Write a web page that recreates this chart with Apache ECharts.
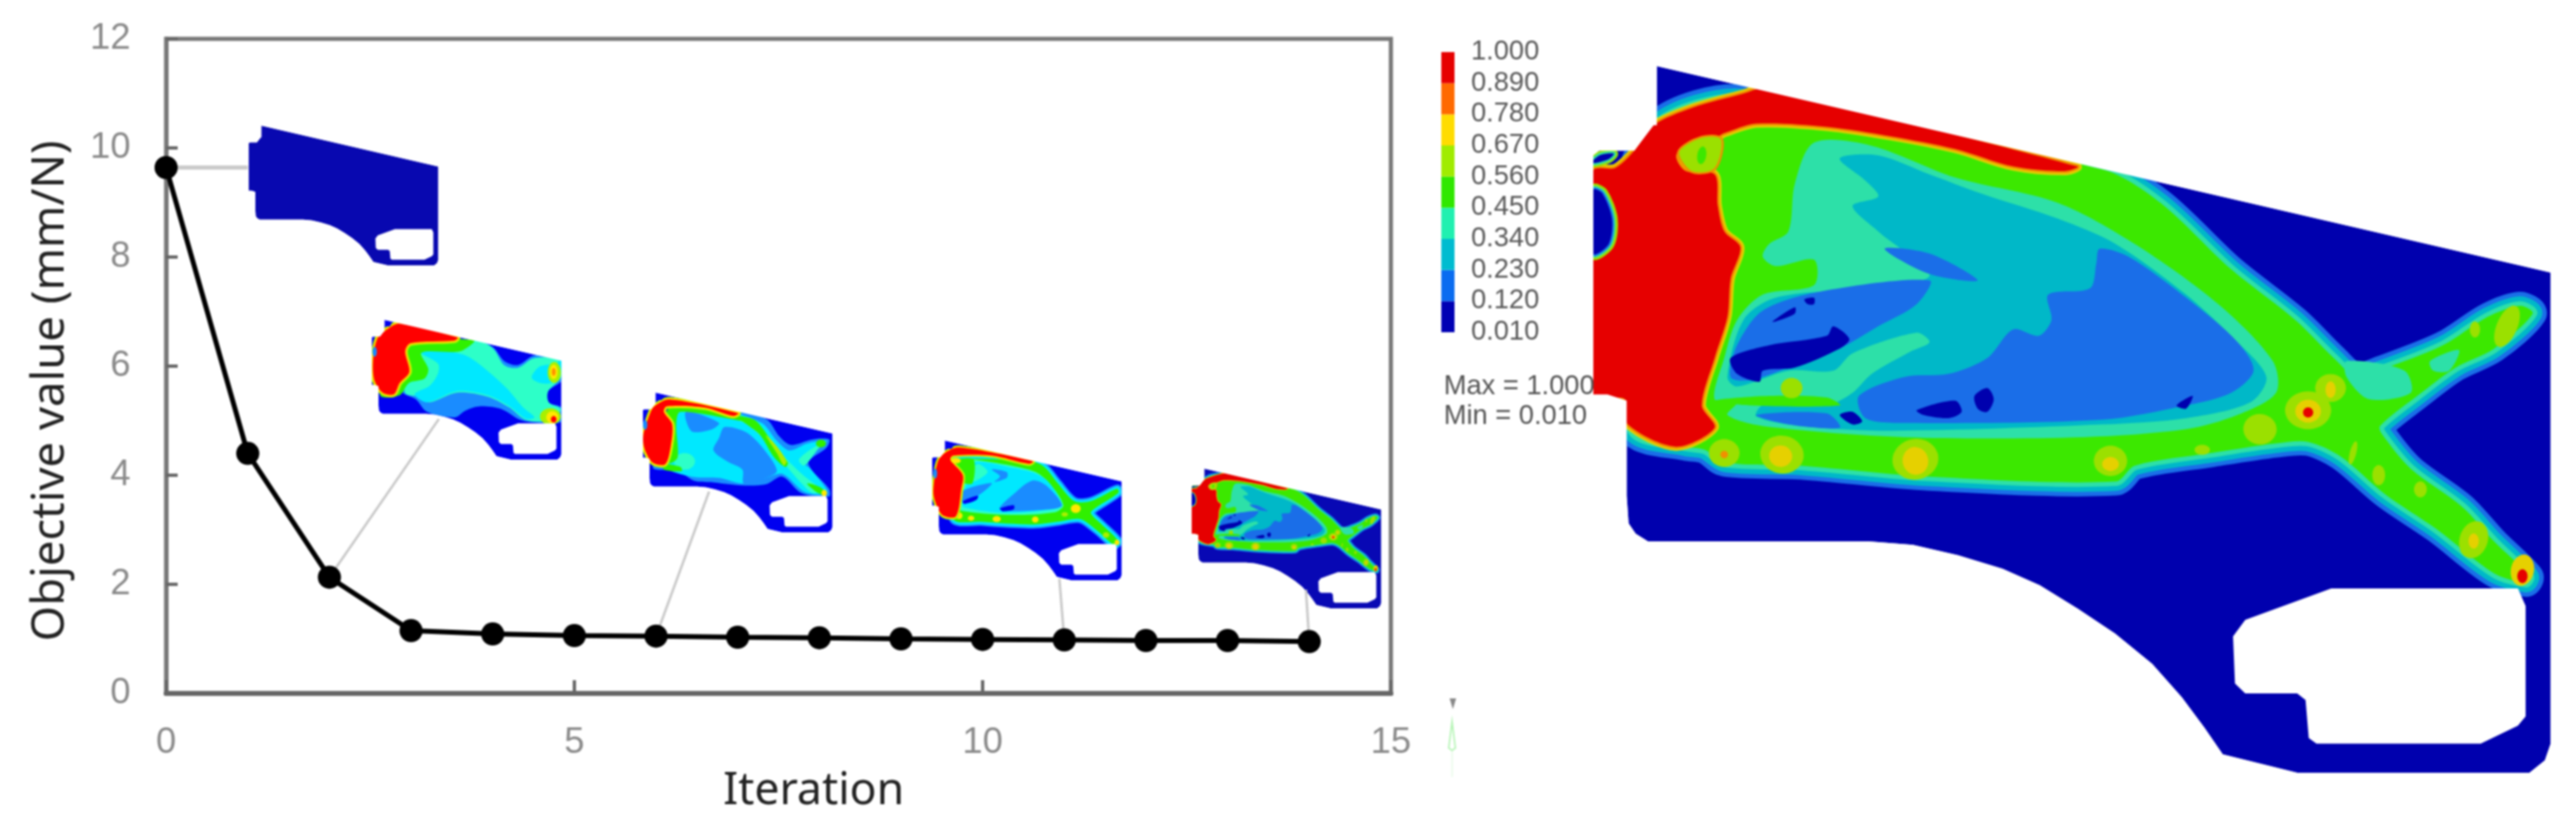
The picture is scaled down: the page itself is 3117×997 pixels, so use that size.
<!DOCTYPE html>
<html>
<head>
<meta charset="utf-8">
<title>Objective value vs iteration</title>
<script src="https://cdn.jsdelivr.net/npm/echarts@6/dist/echarts.min.js"></script>
<style>
  html, body { margin: 0; background: #fff; }
  #chart { width: 3117px; height: 997px; filter: blur(0.9px); }
</style>
</head>
<body>
<div id="chart"></div>
<script>
// chart values
const iterations = [0, 1, 2, 3, 4, 5, 6, 7, 8, 9, 10, 11, 12, 13, 14]
const objectiveValues = [9.64, 4.4, 2.13, 1.15, 1.09, 1.06, 1.05, 1.03, 1.02, 1.0, 0.99, 0.98, 0.97, 0.97, 0.95]
const leaderFirst = [[0, 9.64], [1, 9.64]]
const leaderSecond = [[2, 2.13], [3.34, 5.03]]
const leaderThird = [[6, 1.05], [6.65, 3.7]]
const leaderFourth = [[11, 0.98], [10.94, 2.1]]
const leaderFifth = [[14, 0.95], [13.96, 1.9]]
const legendTicks = [0.01, 0.12, 0.23, 0.34, 0.45, 0.56, 0.67, 0.78, 0.89, 1.0]
const legendColors = ['#0000b4', '#0a6cf0', '#00bcd0', '#20f0b0', '#30e800', '#a0ec00', '#ffdc00', '#ff6a00', '#e60000']

// contour colours
const DARK = '#0000ae', MID = '#1a6ee8', TEAL = '#00b8c8', AQUA = '#2de0a8', GREEN = '#3ce800'
const LIME = '#9be000', YELLOW = '#e6d000', ORANGE = '#f09000', RED = '#e60000'
const BLUE2 = '#0000f0', MID2 = '#1a8cff', CYAN2 = '#00e8ff', AQUA2 = '#2dffc8', GREEN2 = '#30f000'
const LIME2 = '#a8f000', YELLOW2 = '#ffe800', ORANGE2 = '#ff9000', RED2 = '#ff0000'

// outline, crop units (see fromCrop)
const outline = [[135, 78], [1528, 730], [1528, 2218], [1519, 2271], [1495, 2310], [1133, 2310], [1017, 2252], [988, 2166], [953, 2071], [907, 1966], [849, 1870], [791, 1792], [732, 1718], [674, 1666], [604, 1623], [534, 1590], [464, 1579], [121, 1579], [102, 1555], [91, 1522], [88, 1435], [88, 1135], [58, 1115], [36, 1115], [36, 360], [45, 345], [100, 345], [130, 265], [135, 265]]
const cutout = [[1186, 1728], [1477, 1728], [1489, 1783], [1489, 2132], [1477, 2161], [1419, 2218], [1163, 2218], [1151, 2200], [1146, 2080], [1133, 2059], [1052, 2059], [1036, 2028], [1033, 1879], [1052, 1827]]

function fromCrop([x, y]) {
  return [1900 + x / 1.288, 50 + y / 2.61]
}

function blob(cx, cy, rx, ry, rot = 0) {
  const pts = []
  for (let i = 0; i < 14; i++) {
    const t = (i / 14) * Math.PI * 2
    const a = rx * Math.cos(t)
    const b = ry * Math.sin(t)
    pts.push([cx + a * Math.cos(rot) - b * Math.sin(rot) * 0.5, cy + a * Math.sin(rot) * 2 + b * Math.cos(rot)])
  }
  return pts
}

// [fill, points, [[strokeWidth, colour], ...]]
const finalLayers = [
  [GREEN, [[270, 180], [830, 405], [920, 510], [1030, 720], [1130, 880], [1190, 1000], [1225, 1060], [1260, 1040], [1360, 960], [1430, 870], [1480, 835], [1500, 860], [1440, 970], [1380, 1030], [1320, 1120], [1262, 1215], [1265, 1240], [1310, 1350], [1390, 1470], [1440, 1580], [1495, 1690], [1490, 1710], [1440, 1680], [1350, 1540], [1270, 1430], [1200, 1310], [1150, 1265], [1100, 1270], [1000, 1300], [880, 1340], [850, 1390], [560, 1375], [360, 1340], [240, 1330], [210, 1290], [180, 1280], [100, 1240], [88, 1100], [88, 500], [135, 260]], [[34, MID], [23, TEAL], [11, AQUA]]],
  [AQUA, [[380, 320], [470, 330], [600, 430], [760, 510], [880, 640], [1010, 830], [1095, 1010], [1100, 1110], [1040, 1180], [960, 1225], [800, 1250], [520, 1250], [300, 1215], [245, 1180], [260, 1140], [225, 1130], [240, 1000], [260, 880], [300, 800], [380, 770], [380, 690], [320, 710], [300, 680], [310, 640], [340, 600], [350, 450]]],
  [TEAL, [[420, 370], [480, 360], [560, 420], [640, 480], [760, 560], [850, 640], [960, 800], [1040, 950], [1085, 1060], [1060, 1140], [960, 1190], [830, 1210], [500, 1230], [360, 1215], [290, 1185], [300, 1150], [400, 1150], [440, 1110], [470, 1050], [530, 980], [560, 950], [540, 920], [440, 985], [410, 1040], [340, 1040], [260, 1090], [245, 1060], [270, 880], [320, 810], [450, 780], [560, 740], [480, 600], [440, 520], [480, 490], [460, 440]]],
  [MID, [[260, 960], [300, 850], [390, 790], [560, 755], [540, 830], [480, 900], [420, 970], [340, 1030], [280, 1070], [250, 1060]]],
  [MID, [[490, 655], [560, 670], [635, 755], [560, 735]]],
  [MID, [[825, 655], [870, 680], [960, 810], [1040, 950], [1065, 1040], [1030, 1110], [960, 1150], [830, 1195], [520, 1205], [460, 1190], [450, 1120], [520, 1060], [590, 1050], [650, 1000], [690, 910], [730, 930], [750, 880], [745, 800], [810, 780], [820, 700]]],
  [MID, [[290, 1180], [400, 1175], [420, 1220], [340, 1210]]],
  [DARK, [[250, 1000], [310, 960], [400, 930], [410, 900], [435, 940], [420, 970], [350, 1030], [300, 1040], [295, 1075], [260, 1050]]],
  [DARK, [[315, 885], [350, 840], [350, 860], [320, 885]]],
  [DARK, [[365, 815], [380, 810], [380, 830], [370, 830]]],
  [DARK, [[540, 1165], [600, 1135], [610, 1170], [590, 1190], [550, 1180]]],
  [DARK, [[630, 1120], [650, 1095], [660, 1130], [650, 1170], [635, 1160]]],
  [DARK, [[420, 1180], [440, 1170], [455, 1200], [440, 1210]]],
  [DARK, [[945, 1150], [970, 1120], [960, 1160]]],
  [AQUA, [[1210, 1010], [1300, 1040], [1310, 1110], [1245, 1130], [1210, 1060]]],
  [AQUA, [[1340, 1010], [1385, 975], [1370, 1040], [1345, 1040]]],
  [GREEN, [[225, 1135], [310, 1120], [400, 1125], [420, 1150], [280, 1150]]],
  [LIME, blob(345, 1095, 17, 32)],
  [LIME, blob(1460, 900, 16, 70, 0.4)],
  [LIME, blob(1410, 910, 8, 25)],
  [LIME, blob(1075, 1225, 26, 48, 0.1)],
  [LIME, blob(985, 1290, 12, 16)],
  [LIME, blob(1220, 1300, 5, 38, 0.25)],
  [LIME, blob(1260, 1370, 10, 32)],
  [LIME, blob(1325, 1415, 10, 25)],
  [LIME, blob(240, 1300, 24, 44)],
  [ORANGE, blob(240, 1305, 6, 12)],
  [LIME, blob(330, 1305, 34, 60, 0.15)],
  [YELLOW, blob(328, 1310, 18, 34, 0.15)],
  [LIME, blob(538, 1320, 36, 64, -0.2)],
  [YELLOW, blob(538, 1325, 20, 44, -0.2)],
  [LIME, blob(842, 1325, 26, 48)],
  [YELLOW, blob(842, 1335, 13, 22)],
  [LIME, blob(1150, 1165, 36, 60)],
  [YELLOW, blob(1150, 1168, 20, 36)],
  [RED, blob(1150, 1172, 8, 16)],
  [LIME, blob(1185, 1095, 24, 44)],
  [YELLOW, blob(1185, 1100, 8, 26)],
  [LIME, blob(1408, 1574, 22, 60, 0.3)],
  [YELLOW, blob(1408, 1578, 8, 24)],
  [YELLOW, blob(1484, 1670, 18, 50, 0.2)],
  [RED, blob(1484, 1689, 8, 22)],
  [RED, [[36, 410], [70, 400], [100, 345], [130, 265], [190, 210], [270, 165], [300, 150], [790, 395], [770, 410], [690, 395], [600, 340], [500, 300], [400, 270], [290, 260], [240, 290], [230, 300], [190, 310], [165, 360], [180, 410], [225, 420], [230, 520], [240, 600], [265, 650], [250, 750], [245, 870], [225, 1000], [205, 1150], [225, 1220], [165, 1280], [90, 1210], [85, 1130], [36, 1120]], [[10, YELLOW], [5, ORANGE]]],
  [LIME, [[170, 350], [205, 305], [235, 310], [225, 400], [190, 410]], [[5, ORANGE]]],
  [GREEN, blob(205, 360, 7, 28, 0.15)],
  [DARK, [[36, 470], [50, 480], [65, 560], [60, 640], [36, 670]], [[14, LIME], [8, AQUA], [4, MID]]],
  [DARK, [[36, 375], [48, 358], [68, 355], [60, 372], [36, 385]], [[10, LIME], [5, AQUA]]]
]

// inset coordinates below are zoomed 3x from the small figures
const iter1Layers = [
  [MID2, [[140, 280], [190, 310], [230, 355], [330, 375], [370, 350], [420, 335], [500, 345], [570, 385], [640, 395], [720, 390], [720, 340], [670, 320], [670, 280], [720, 240], [720, 170], [620, 150], [560, 185], [510, 170], [470, 120], [410, 95], [170, 110]]],
  [AQUA2, [[150, 285], [160, 130], [410, 95], [470, 125], [510, 185], [560, 195], [620, 160], [716, 168], [716, 230], [670, 280], [672, 320], [716, 345], [680, 385], [590, 385], [530, 340], [450, 300], [340, 285], [240, 320], [200, 300]]],
  [CYAN2, [[200, 135], [300, 135], [370, 150], [430, 190], [520, 270], [580, 340], [620, 375], [590, 380], [530, 335], [450, 295], [340, 280], [230, 320], [185, 290], [240, 260], [270, 215], [270, 180]]],
  [CYAN2, [[610, 230], [640, 190], [700, 180], [716, 165], [716, 215], [680, 250], [640, 250]]],
  [GREEN2, [[165, 100], [400, 95], [350, 135], [210, 140], [235, 200], [220, 235], [165, 250], [130, 295], [60, 295], [100, 150]]],
  [LIME2, blob(692, 212, 24, 38)],
  [YELLOW2, blob(690, 210, 14, 26)],
  [ORANGE2, blob(690, 210, 7, 14)],
  [LIME2, blob(678, 372, 38, 30)],
  [YELLOW2, blob(685, 375, 22, 22)],
  [RED2, blob(690, 382, 10, 12)],
  [RED2, [[35, 170], [50, 90], [80, 60], [130, 35], [340, 85], [330, 95], [170, 105], [150, 135], [165, 210], [130, 250], [110, 290], [70, 285], [40, 240]], [[7, LIME2], [4.5, YELLOW2], [2, ORANGE2]]],
  [MID2, blob(40, 137, 8, 18)],
  [BLUE2, blob(90, 35, 10, 10)]
]

const iter6Layers = [
  [MID2, [[60, 285], [150, 300], [210, 335], [270, 340], [380, 352], [470, 348], [530, 320], [600, 380], [700, 392], [700, 365], [640, 300], [625, 265], [690, 215], [700, 185], [640, 185], [560, 205], [520, 175], [470, 110], [300, 65], [180, 70]]],
  [CYAN2, [[100, 285], [200, 320], [300, 325], [385, 345], [470, 325], [530, 310], [610, 375], [690, 385], [690, 365], [630, 290], [600, 265], [660, 215], [690, 190], [620, 200], [555, 225], [510, 190], [455, 125], [300, 75], [170, 75], [130, 110], [125, 240]]],
  [MID2, [[180, 85], [300, 125], [270, 150], [200, 155]]],
  [MID2, [[320, 140], [400, 160], [470, 230], [510, 300], [470, 325], [390, 345], [385, 295], [330, 265], [280, 225], [300, 180]]],
  [AQUA2, [[340, 100], [420, 110], [470, 160], [530, 240], [600, 310], [670, 370], [640, 380], [600, 345], [530, 265], [470, 190], [400, 130]]],
  [AQUA2, [[690, 190], [620, 230], [590, 260], [610, 280], [660, 220]]],
  [AQUA2, blob(175, 265, 38, 30)],
  [GREEN2, [[360, 100], [430, 115], [490, 190], [550, 270], [540, 285], [500, 250], [450, 170], [400, 130]]],
  [LIME2, [[470, 170], [510, 210], [545, 265], [535, 280], [510, 235]]],
  [GREEN2, [[100, 275], [160, 285], [165, 300], [100, 295]]],
  [GREEN2, [[620, 345], [670, 360], [690, 385], [660, 380]]],
  [GREEN2, blob(670, 200, 18, 14)],
  [YELLOW2, blob(682, 380, 10, 12)],
  [GREEN2, [[120, 70], [360, 100], [400, 120], [160, 85], [145, 130], [150, 250], [120, 270]]],
  [RED2, [[25, 170], [50, 90], [65, 65], [120, 40], [370, 90], [350, 100], [250, 70], [110, 65], [100, 85], [130, 130], [125, 210], [105, 275], [60, 270], [30, 220]], [[6, LIME2], [3.5, YELLOW2]]],
  [MID2, blob(32, 132, 8, 18)],
  [BLUE2, blob(88, 32, 10, 10)]
]

const iter11Layers = [
  [GREEN2, [[110, 80], [380, 90], [430, 110], [480, 170], [540, 235], [600, 235], [695, 190], [700, 205], [610, 265], [600, 280], [640, 320], [700, 380], [685, 395], [620, 340], [560, 300], [480, 310], [390, 320], [200, 310], [100, 300], [100, 90]], [[10, MID2], [6, CYAN2]]],
  [AQUA2, [[135, 160], [150, 85], [180, 85], [330, 110], [400, 130], [450, 170], [500, 250], [470, 275], [300, 285], [130, 270], [120, 250]]],
  [CYAN2, [[175, 95], [320, 115], [400, 135], [450, 170], [495, 250], [465, 265], [300, 278], [140, 258], [130, 235], [150, 170]]],
  [AQUA2, [[190, 100], [225, 130], [170, 165], [165, 130]]],
  [MID2, [[130, 200], [240, 170], [190, 215], [130, 235]]],
  [MID2, [[240, 120], [295, 130], [295, 150], [250, 165], [270, 145]]],
  [BLUE2, [[135, 235], [190, 215], [185, 230], [140, 245]]],
  [MID2, [[390, 160], [440, 180], [495, 250], [450, 265], [270, 265], [330, 200]]],
  [BLUE2, [[270, 262], [320, 250], [320, 265], [280, 272]]],
  [GREEN2, [[130, 85], [175, 85], [170, 170], [135, 165]]],
  [YELLOW2, blob(122, 288, 12, 12)],
  [YELLOW2, blob(165, 297, 12, 9)],
  [YELLOW2, blob(258, 300, 15, 11)],
  [YELLOW2, blob(398, 302, 12, 11)],
  [YELLOW2, blob(545, 262, 18, 16)],
  [LIME2, blob(505, 283, 12, 8)],
  [LIME2, blob(655, 358, 12, 10)],
  [YELLOW2, blob(695, 385, 9, 10)],
  [RED2, [[30, 170], [45, 90], [70, 60], [120, 40], [390, 90], [375, 100], [240, 70], [100, 70], [90, 85], [135, 140], [130, 190], [110, 290], [60, 285], [30, 220]], [[5, LIME2], [2.5, YELLOW2]]],
  [YELLOW2, blob(110, 88, 18, 10)],
  [MID2, blob(35, 135, 7, 18)],
  [BLUE2, blob(88, 35, 12, 10)]
]

const S = 0.198
function scaled(ox, oy, s) {
  return p => {
    const [x, y] = fromCrop(p)
    return [ox + (x - 1928) * s, oy + (y - 80) * s]
  }
}
function local(cx, cy) {
  return ([x, y]) => [cx + x / 3, cy + y / 3]
}

function polygon(points, fill, stroke, width, smooth) {
  return {
    type: 'polygon',
    z: 1,
    silent: true,
    shape: smooth ? { points, smooth } : { points },
    style: stroke
      ? { fill: null, stroke, lineWidth: width, lineJoin: 'round' }
      : { fill }
  }
}

// one door panel: solid base, contour layers, then a white mask trims whatever ran past the edge
function panel(base, layers, outer, layerMap, strokeScale) {
  const els = []
  const shape = outline.map(outer)
  els.push(polygon(shape, base))
  layers.forEach(([fill, pts, bands]) => {
    const mapped = pts.map(layerMap)
    ;(bands || []).forEach(([w, c]) => els.push(polygon(mapped, null, c, w * strokeScale, 0.3)))
    els.push(polygon(mapped, fill, null, 0, 0.3))
  })
  const TL = outer([0, -30]), BR = outer([1560, 2350])
  const mask = [TL, [TL[0], BR[1]], BR, [BR[0], TL[1]], TL].concat(shape, [shape[0], TL])
  els.push(polygon(mask, '#fff'))
  els.push(polygon(cutout.map(outer), '#fff'))
  return els
}

const big = scaled(1928, 80, 1)
const figures = [
  ...panel(DARK, finalLayers, big, big, 1),
  ...panel('#0808b0', [], scaled(301, 152, S), scaled(301, 152, S), S),
  ...panel(BLUE2, iter1Layers, scaled(450, 387, S), local(440, 380), 1),
  ...panel(BLUE2, iter6Layers, scaled(778, 475, S), local(770, 470), 1),
  ...panel(BLUE2, iter11Layers, scaled(1128, 533, S), local(1120, 528), 1),
  ...panel('#0808b4', finalLayers, scaled(1442, 567, S), scaled(1442, 567, S), S)
]

const legendSeries = legendColors.map(color => ({
  type: 'bar',
  xAxisIndex: 1,
  yAxisIndex: 1,
  stack: 'scale',
  barWidth: '100%',
  silent: true,
  itemStyle: { color },
  data: [1]
}))

const leaderSeries = [leaderFirst, leaderSecond, leaderThird, leaderFourth, leaderFifth].map((data, i) => ({
  type: 'line',
  data,
  z: 2,
  symbol: 'none',
  silent: true,
  clip: false,
  lineStyle: { color: '#c9c9c9', width: i === 0 ? 5 : 3 }
}))

const chart = echarts.init(document.getElementById('chart'), null, { renderer: 'canvas' })
const tickFont = { color: '#8a8a8a', fontFamily: '"Liberation Sans Narrow", "Liberation Sans"', fontSize: 44 }
const nameFont = { color: '#222', fontFamily: '"Noto Sans"' }

chart.setOption({
  animation: false,
  backgroundColor: '#fff',
  grid: [
    { left: 201, top: 47, width: 1482, height: 792, outerBoundsMode: 'none', show: true, borderColor: '#777', borderWidth: 5, backgroundColor: 'transparent' },
    { left: 1744, top: 63, width: 16, height: 339, outerBoundsMode: 'none' }
  ],
  xAxis: [
    {
      type: 'value',
      min: 0,
      max: 15,
      interval: 5,
      name: 'Iteration',
      nameLocation: 'middle',
      nameGap: 92,
      nameTextStyle: { ...nameFont, fontSize: 54, padding: [0, 0, 0, 85] },
      splitLine: { show: false },
      axisLine: { lineStyle: { color: '#666', width: 6 } },
      axisTick: { inside: true, length: 16, lineStyle: { color: '#666', width: 4 } },
      axisLabel: { ...tickFont, margin: 38 }
    },
    { gridIndex: 1, type: 'category', data: ['scale'], show: false }
  ],
  yAxis: [
    {
      type: 'value',
      min: 0,
      max: 12,
      interval: 2,
      name: 'Objective value (mm/N)',
      nameLocation: 'middle',
      nameGap: 112,
      nameTextStyle: { ...nameFont, fontSize: 55, padding: [0, 60, 0, 0] },
      splitLine: { show: false },
      axisLine: { show: true, lineStyle: { color: '#777', width: 5 } },
      axisTick: { inside: true, length: 14, lineStyle: { color: '#666', width: 4 } },
      axisLabel: { ...tickFont, margin: 43 }
    },
    {
      gridIndex: 1,
      type: 'value',
      position: 'right',
      min: 0,
      max: 9,
      interval: 1,
      splitLine: { show: false },
      axisLine: { show: false },
      axisTick: { show: false },
      axisLabel: {
        color: '#5a5a5a',
        fontFamily: '"Liberation Sans"',
        fontSize: 33,
        margin: 20,
        formatter: v => legendTicks[v].toFixed(3)
      }
    }
  ],
  series: [
    ...leaderSeries,
    {
      type: 'line',
      data: iterations.map((x, i) => [x, objectiveValues[i]]),
      z: 3,
      clip: false,
      symbol: 'circle',
      symbolSize: 28,
      showAllSymbol: true,
      lineStyle: { color: '#000', width: 6 },
      itemStyle: { color: '#000' }
    },
    ...legendSeries
  ],
  graphic: {
    elements: [
      ...figures,
      { type: 'text', z: 4, x: 1747, y: 451, style: { text: 'Max = 1.000', fill: '#555', font: '33px "Liberation Sans"' } },
      { type: 'text', z: 4, x: 1747, y: 487, style: { text: 'Min = 0.010', fill: '#555', font: '33px "Liberation Sans"' } },
      { type: 'polygon', z: 4, silent: true, shape: { points: [[1754, 845], [1762, 845], [1758, 858]] }, style: { fill: '#888' } },
      { type: 'polygon', z: 4, silent: true, shape: { points: [[1757, 873], [1753, 905], [1757, 908], [1761, 905]] }, style: { fill: null, stroke: '#b8f5b8', lineWidth: 2 } },
      { type: 'line', z: 4, silent: true, shape: { x1: 1757, y1: 908, x2: 1757, y2: 940 }, style: { stroke: '#d8f8d8', lineWidth: 1 } }
    ]
  }
})
</script>
</body>
</html>
